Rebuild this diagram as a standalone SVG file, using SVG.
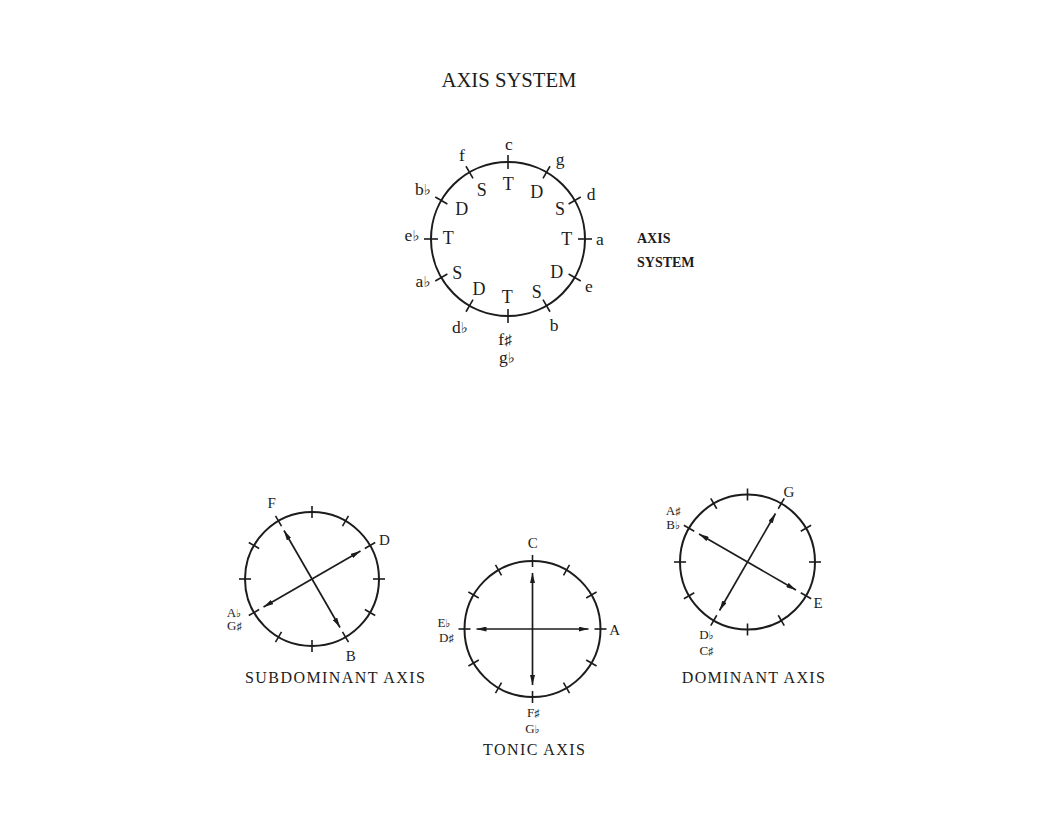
<svg xmlns="http://www.w3.org/2000/svg" width="1041" height="838" viewBox="0 0 1041 838">
<style>
  .ring { fill: none; stroke: #1c1c1c; stroke-width: 2; }
  .tick { stroke: #1c1c1c; stroke-width: 1.6; }
  .axis { stroke: #1c1c1c; stroke-width: 1.7; marker-start: url(#ah); marker-end: url(#ah); }
  text { font-family: "Liberation Serif", "DejaVu Serif", serif; fill: #1c1c1c; text-anchor: middle; }
  .title { font-size: 20px; }
  .low { font-size: 17.5px; }
  .inner { font-size: 18px; }
  .side { font-size: 14px; font-weight: bold; text-anchor: start; }
  .note { font-size: 15px; }
  .small { font-size: 13px; }
  .cap { font-size: 16px; }
  .acc { font-size: 0.85em; }
</style>
<defs>
  <marker id="ah" markerUnits="userSpaceOnUse" markerWidth="10" markerHeight="5" refX="10" refY="2.5" orient="auto-start-reverse">
    <path d="M0,0 L10,2.5 L0,5 Z" fill="#1c1c1c"/>
  </marker>
</defs>
<rect width="1041" height="838" fill="#ffffff"/>

<g id="title">
  <text class="title" x="509" y="86.5" textLength="135" lengthAdjust="spacingAndGlyphs">AXIS SYSTEM</text>
</g>

<g id="axis-system-circle">
  <circle class="ring" cx="508" cy="239" r="77"/>
  <g transform="translate(508,239)">
    <line class="tick" x1="0" y1="-70" x2="0" y2="-84" transform="rotate(0)"/>
    <line class="tick" x1="0" y1="-70" x2="0" y2="-84" transform="rotate(30)"/>
    <line class="tick" x1="0" y1="-70" x2="0" y2="-84" transform="rotate(60)"/>
    <line class="tick" x1="0" y1="-70" x2="0" y2="-84" transform="rotate(90)"/>
    <line class="tick" x1="0" y1="-70" x2="0" y2="-84" transform="rotate(120)"/>
    <line class="tick" x1="0" y1="-70" x2="0" y2="-84" transform="rotate(150)"/>
    <line class="tick" x1="0" y1="-70" x2="0" y2="-84" transform="rotate(180)"/>
    <line class="tick" x1="0" y1="-70" x2="0" y2="-84" transform="rotate(210)"/>
    <line class="tick" x1="0" y1="-70" x2="0" y2="-84" transform="rotate(240)"/>
    <line class="tick" x1="0" y1="-70" x2="0" y2="-84" transform="rotate(270)"/>
    <line class="tick" x1="0" y1="-70" x2="0" y2="-84" transform="rotate(300)"/>
    <line class="tick" x1="0" y1="-70" x2="0" y2="-84" transform="rotate(330)"/>
  </g>
  <text class="low" x="509" y="149.5">c</text>
  <text class="low" x="560" y="165">g</text>
  <text class="low" x="591" y="200">d</text>
  <text class="low" x="600" y="245">a</text>
  <text class="low" x="589" y="292">e</text>
  <text class="low" x="554" y="331">b</text>
  <text class="low" x="505" y="344.5">f<tspan class="acc">♯</tspan></text>
  <text class="low" x="507" y="363">g<tspan class="acc">♭</tspan></text>
  <text class="low" x="460" y="333">d<tspan class="acc">♭</tspan></text>
  <text class="low" x="423" y="287">a<tspan class="acc">♭</tspan></text>
  <text class="low" x="412" y="241">e<tspan class="acc">♭</tspan></text>
  <text class="low" x="423" y="195">b<tspan class="acc">♭</tspan></text>
  <text class="low" x="462" y="161">f</text>

  <text class="inner" x="508.3" y="189.5">T</text>
  <text class="inner" x="536.7" y="198">D</text>
  <text class="inner" x="560" y="214.5">S</text>
  <text class="inner" x="566.7" y="244.5">T</text>
  <text class="inner" x="556.7" y="278">D</text>
  <text class="inner" x="536.7" y="298">S</text>
  <text class="inner" x="507.3" y="303">T</text>
  <text class="inner" x="479" y="294.5">D</text>
  <text class="inner" x="457.3" y="279">S</text>
  <text class="inner" x="448.3" y="243.5">T</text>
  <text class="inner" x="461.7" y="214.5">D</text>
  <text class="inner" x="481.7" y="195.5">S</text>

  <text class="side" x="637" y="243.3">AXIS</text>
  <text class="side" x="637" y="266.7">SYSTEM</text>
</g>

<g id="subdominant-axis">
  <circle class="ring" cx="312" cy="579" r="67"/>
  <g transform="translate(312,579)">
    <line class="tick" x1="0" y1="-61" x2="0" y2="-73" transform="rotate(0)"/>
    <line class="tick" x1="0" y1="-61" x2="0" y2="-73" transform="rotate(30)"/>
    <line class="tick" x1="0" y1="-61" x2="0" y2="-73" transform="rotate(60)"/>
    <line class="tick" x1="0" y1="-61" x2="0" y2="-73" transform="rotate(90)"/>
    <line class="tick" x1="0" y1="-61" x2="0" y2="-73" transform="rotate(120)"/>
    <line class="tick" x1="0" y1="-61" x2="0" y2="-73" transform="rotate(150)"/>
    <line class="tick" x1="0" y1="-61" x2="0" y2="-73" transform="rotate(180)"/>
    <line class="tick" x1="0" y1="-61" x2="0" y2="-73" transform="rotate(210)"/>
    <line class="tick" x1="0" y1="-61" x2="0" y2="-73" transform="rotate(240)"/>
    <line class="tick" x1="0" y1="-61" x2="0" y2="-73" transform="rotate(270)"/>
    <line class="tick" x1="0" y1="-61" x2="0" y2="-73" transform="rotate(300)"/>
    <line class="tick" x1="0" y1="-61" x2="0" y2="-73" transform="rotate(330)"/>
  </g>
  <text class="note" x="271.7" y="508">F</text>
  <text class="note" x="384.3" y="545">D</text>
  <text class="small" x="234" y="616.5">A<tspan class="acc">♭</tspan></text>
  <text class="small" x="234.5" y="630">G<tspan class="acc">♯</tspan></text>
  <text class="note" x="350.7" y="661">B</text>
  <text class="cap" x="335" y="683" textLength="180" lengthAdjust="spacing">SUBDOMINANT AXIS</text>
</g>

<g id="tonic-axis">
  <circle class="ring" cx="532.5" cy="629" r="68"/>
  <g transform="translate(532.5,629)">
    <line class="tick" x1="0" y1="-62" x2="0" y2="-74" transform="rotate(0)"/>
    <line class="tick" x1="0" y1="-62" x2="0" y2="-74" transform="rotate(30)"/>
    <line class="tick" x1="0" y1="-62" x2="0" y2="-74" transform="rotate(60)"/>
    <line class="tick" x1="0" y1="-62" x2="0" y2="-74" transform="rotate(90)"/>
    <line class="tick" x1="0" y1="-62" x2="0" y2="-74" transform="rotate(120)"/>
    <line class="tick" x1="0" y1="-62" x2="0" y2="-74" transform="rotate(150)"/>
    <line class="tick" x1="0" y1="-62" x2="0" y2="-74" transform="rotate(180)"/>
    <line class="tick" x1="0" y1="-62" x2="0" y2="-74" transform="rotate(210)"/>
    <line class="tick" x1="0" y1="-62" x2="0" y2="-74" transform="rotate(240)"/>
    <line class="tick" x1="0" y1="-62" x2="0" y2="-74" transform="rotate(270)"/>
    <line class="tick" x1="0" y1="-62" x2="0" y2="-74" transform="rotate(300)"/>
    <line class="tick" x1="0" y1="-62" x2="0" y2="-74" transform="rotate(330)"/>
  </g>
  <text class="note" x="532.7" y="548">C</text>
  <text class="note" x="614.7" y="635">A</text>
  <text class="small" x="444" y="626.5">E<tspan class="acc">♭</tspan></text>
  <text class="small" x="446.5" y="642">D<tspan class="acc">♯</tspan></text>
  <text class="small" x="533.3" y="716.5">F<tspan class="acc">♯</tspan></text>
  <text class="small" x="532.5" y="732.5">G<tspan class="acc">♭</tspan></text>
  <text class="cap" x="534" y="755" textLength="102" lengthAdjust="spacing">TONIC AXIS</text>
</g>

<g id="dominant-axis">
  <circle class="ring" cx="747.5" cy="562" r="67.5"/>
  <g transform="translate(747.5,562)">
    <line class="tick" x1="0" y1="-61.5" x2="0" y2="-73.5" transform="rotate(0)"/>
    <line class="tick" x1="0" y1="-61.5" x2="0" y2="-73.5" transform="rotate(30)"/>
    <line class="tick" x1="0" y1="-61.5" x2="0" y2="-73.5" transform="rotate(60)"/>
    <line class="tick" x1="0" y1="-61.5" x2="0" y2="-73.5" transform="rotate(90)"/>
    <line class="tick" x1="0" y1="-61.5" x2="0" y2="-73.5" transform="rotate(120)"/>
    <line class="tick" x1="0" y1="-61.5" x2="0" y2="-73.5" transform="rotate(150)"/>
    <line class="tick" x1="0" y1="-61.5" x2="0" y2="-73.5" transform="rotate(180)"/>
    <line class="tick" x1="0" y1="-61.5" x2="0" y2="-73.5" transform="rotate(210)"/>
    <line class="tick" x1="0" y1="-61.5" x2="0" y2="-73.5" transform="rotate(240)"/>
    <line class="tick" x1="0" y1="-61.5" x2="0" y2="-73.5" transform="rotate(270)"/>
    <line class="tick" x1="0" y1="-61.5" x2="0" y2="-73.5" transform="rotate(300)"/>
    <line class="tick" x1="0" y1="-61.5" x2="0" y2="-73.5" transform="rotate(330)"/>
  </g>
  <text class="note" x="789" y="496.7">G</text>
  <text class="small" x="673.3" y="514.5">A<tspan class="acc">♯</tspan></text>
  <text class="small" x="673.3" y="528.5">B<tspan class="acc">♭</tspan></text>
  <text class="note" x="818" y="608.3">E</text>
  <text class="small" x="706.5" y="638.5">D<tspan class="acc">♭</tspan></text>
  <text class="small" x="706.5" y="654.5">C<tspan class="acc">♯</tspan></text>
  <text class="cap" x="753.3" y="683" textLength="143" lengthAdjust="spacing">DOMINANT AXIS</text>
</g>

<g id="connectors">
  <line class="axis" x1="284" y1="530.5" x2="340" y2="627.5"/>
  <line class="axis" x1="360.5" y1="551" x2="263.5" y2="607"/>
  <line class="axis" x1="532.5" y1="573" x2="532.5" y2="685"/>
  <line class="axis" x1="476.5" y1="629" x2="588.5" y2="629"/>
  <line class="axis" x1="775.5" y1="513.5" x2="719.5" y2="610.5"/>
  <line class="axis" x1="699" y1="534" x2="796" y2="590"/>
</g>
</svg>
